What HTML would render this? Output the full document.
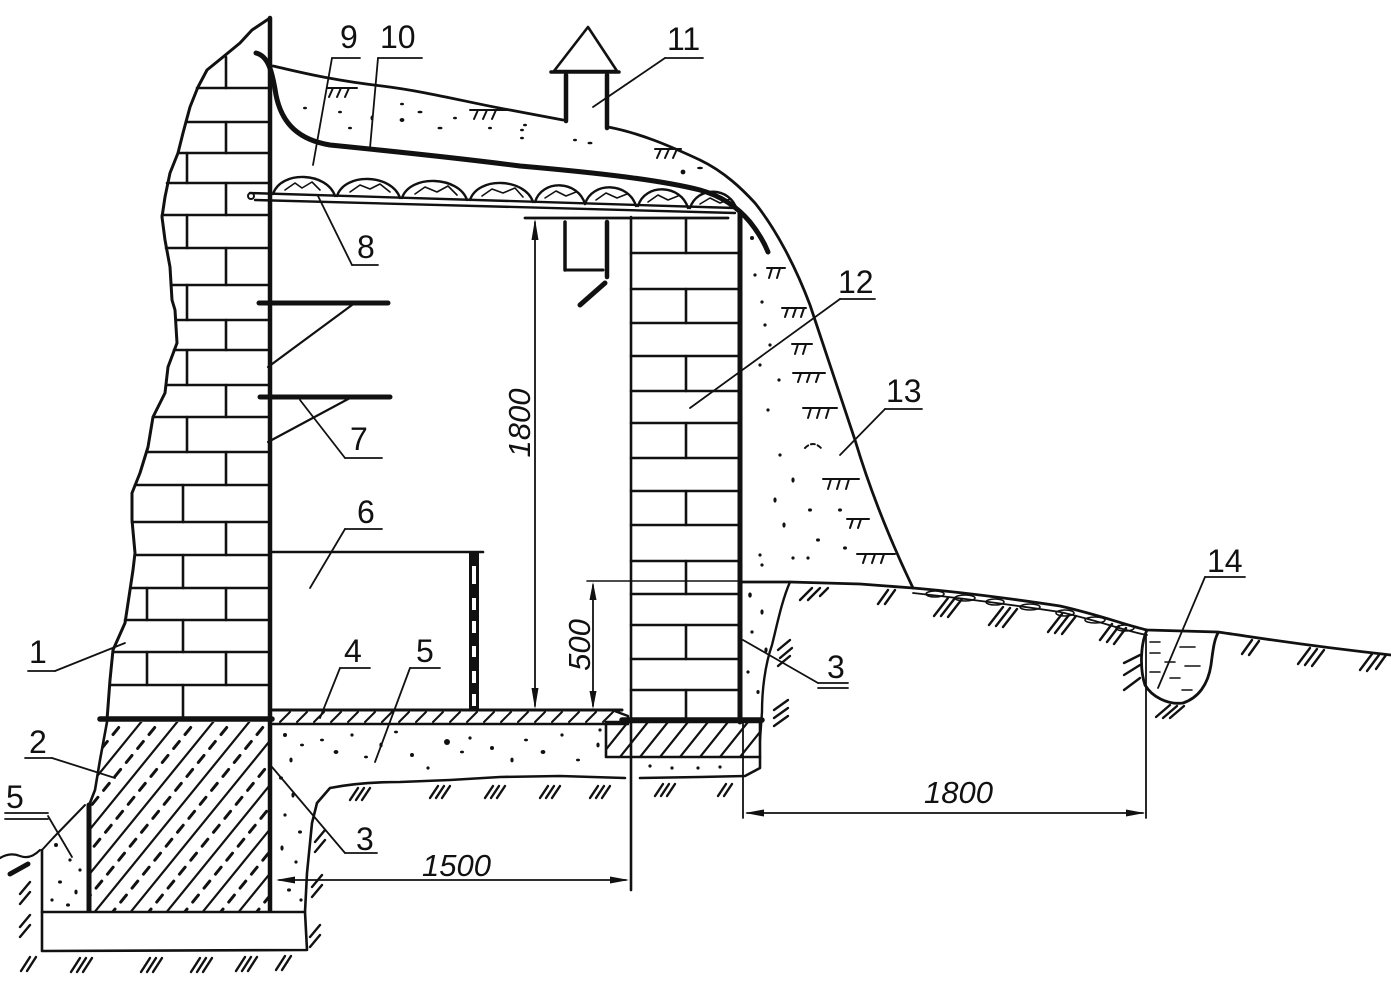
<!DOCTYPE html>
<html><head><meta charset="utf-8"><style>
html,body{margin:0;padding:0;background:#fff;}
svg{display:block;}
text{font-family:"Liberation Sans",Arial,sans-serif;fill:#111;}
</style></head><body>
<svg width="1391" height="988" viewBox="0 0 1391 988" xmlns="http://www.w3.org/2000/svg">
<defs>
<clipPath id="fc"><polygon points="107,722 270,722 270,912 88,912 88,808 95,790 100,760"/></clipPath>
<clipPath id="rc"><rect x="606" y="723" width="153" height="33"/></clipPath>
</defs>
<rect width="1391" height="988" fill="#fff"/>
<g fill="none" stroke="#111" stroke-linecap="round" stroke-linejoin="round">

<!-- LEFT WALL outline -->
<polyline stroke-width="3" points="270,18 252,30 240,43 223,57 207,70 198,87 190,107 183,133 178,153 170,173 165,197 162,217 165,240 170,267 172,300 175,310 177,343 168,367 165,393 153,417 148,447 140,473 132,493 132,520 135,553 133,570 130,590 125,623 113,650 110,680 107,720"/>
<line x1="270" y1="18" x2="270" y2="912" stroke-width="4.5"/>
<g stroke-width="2.6">
<line x1="197" y1="88" x2="270" y2="88"/><line x1="186" y1="122" x2="270" y2="122"/>
<line x1="178" y1="153" x2="270" y2="153"/><line x1="167" y1="183" x2="270" y2="183"/>
<line x1="162" y1="215" x2="270" y2="215"/><line x1="166" y1="248" x2="270" y2="248"/>
<line x1="171" y1="285" x2="270" y2="285"/><line x1="176" y1="320" x2="270" y2="320"/>
<line x1="174" y1="350" x2="270" y2="350"/><line x1="166" y1="385" x2="270" y2="385"/>
<line x1="153" y1="417" x2="270" y2="417"/><line x1="147" y1="452" x2="270" y2="452"/>
<line x1="135" y1="485" x2="270" y2="485"/><line x1="132" y1="522" x2="270" y2="522"/>
<line x1="135" y1="555" x2="270" y2="555"/><line x1="131" y1="588" x2="270" y2="588"/>
<line x1="125" y1="620" x2="270" y2="620"/><line x1="113" y1="652" x2="270" y2="652"/>
<line x1="110" y1="685" x2="270" y2="685"/>
<line x1="226" y1="57" x2="226" y2="88"/><line x1="226" y1="122" x2="226" y2="153"/>
<line x1="226" y1="183" x2="226" y2="215"/><line x1="226" y1="248" x2="226" y2="285"/>
<line x1="226" y1="320" x2="226" y2="350"/><line x1="226" y1="385" x2="226" y2="417"/>
<line x1="226" y1="452" x2="226" y2="485"/><line x1="226" y1="522" x2="226" y2="555"/>
<line x1="226" y1="588" x2="226" y2="620"/><line x1="226" y1="652" x2="226" y2="685"/>
<line x1="187" y1="153" x2="187" y2="183"/><line x1="187" y1="215" x2="187" y2="248"/>
<line x1="187" y1="285" x2="187" y2="320"/><line x1="187" y1="350" x2="187" y2="385"/>
<line x1="187" y1="417" x2="187" y2="452"/>
<line x1="183" y1="485" x2="183" y2="522"/><line x1="183" y1="555" x2="183" y2="588"/>
<line x1="183" y1="620" x2="183" y2="652"/><line x1="183" y1="685" x2="183" y2="718"/>
<line x1="147" y1="588" x2="147" y2="620"/><line x1="147" y1="652" x2="147" y2="685"/>
</g>

<!-- FOUNDATION 2 -->
<g clip-path="url(#fc)">
<g stroke-width="2.2">
<line x1="-100" y1="930" x2="70" y2="721"/><line x1="-64" y1="930" x2="106" y2="721"/>
<line x1="-28" y1="930" x2="142" y2="721"/><line x1="8" y1="930" x2="178" y2="721"/>
<line x1="44" y1="930" x2="214" y2="721"/><line x1="80" y1="930" x2="250" y2="721"/>
<line x1="116" y1="930" x2="286" y2="721"/><line x1="152" y1="930" x2="322" y2="721"/>
<line x1="188" y1="930" x2="358" y2="721"/><line x1="224" y1="930" x2="394" y2="721"/>
<line x1="260" y1="930" x2="430" y2="721"/>
</g>
<g stroke-width="3" stroke-dasharray="9 9">
<line x1="-82" y1="930" x2="88" y2="721"/><line x1="-46" y1="930" x2="124" y2="721"/>
<line x1="-10" y1="930" x2="160" y2="721"/><line x1="26" y1="930" x2="196" y2="721"/>
<line x1="62" y1="930" x2="232" y2="721"/><line x1="98" y1="930" x2="268" y2="721"/>
<line x1="134" y1="930" x2="304" y2="721"/><line x1="170" y1="930" x2="340" y2="721"/>
<line x1="206" y1="930" x2="376" y2="721"/><line x1="242" y1="930" x2="412" y2="721"/>
</g>
</g>
<polyline stroke-width="2.6" points="107,722 100,760 95,790 88,808"/>
<line x1="89" y1="805" x2="89" y2="912" stroke-width="5"/>
<line x1="100" y1="719" x2="272" y2="719" stroke-width="5.5"/>
<!-- footing -->
<path d="M42,912 L305,912 L307,950 L42,951 Z" fill="#fff" stroke-width="2.6"/>
<line x1="42" y1="850" x2="42" y2="912" stroke-width="2.6"/>
<path d="M0,858 Q10,852 20,856 T40,850" stroke-width="2.2"/>
<path d="M42,850 L53,838 L85,805" stroke-width="2"/>
<path d="M10,874 L28,864" stroke-width="5"/>

<!-- right trench of left foundation / floor sand bottom -->
<path d="M305,912 L307,873 L312,823 L317,803 L330,788 Q360,782 400,782 L450,780 L500,777 L560,776 L625,778" stroke-width="2.6"/>
<path d="M640,778 L700,777 L745,776 L760,768 L760,757" stroke-width="2.6"/>

<!-- FLOOR layer 4 -->
<line x1="272" y1="710" x2="622" y2="710" stroke-width="3"/>
<line x1="272" y1="724" x2="628" y2="724" stroke-width="2.4"/>
<path d="M612,710 L628,716 L628,724" stroke-width="2.4"/>
<g stroke-width="2">
<line x1="280" y1="722" x2="290" y2="712"/><line x1="297" y1="722" x2="307" y2="712"/>
<line x1="314" y1="722" x2="324" y2="712"/><line x1="331" y1="722" x2="341" y2="712"/>
<line x1="348" y1="722" x2="358" y2="712"/><line x1="365" y1="722" x2="375" y2="712"/>
<line x1="382" y1="722" x2="392" y2="712"/><line x1="399" y1="722" x2="409" y2="712"/>
<line x1="416" y1="722" x2="426" y2="712"/><line x1="433" y1="722" x2="443" y2="712"/>
<line x1="450" y1="722" x2="460" y2="712"/><line x1="467" y1="722" x2="477" y2="712"/>
<line x1="484" y1="722" x2="494" y2="712"/><line x1="501" y1="722" x2="511" y2="712"/>
<line x1="518" y1="722" x2="528" y2="712"/><line x1="535" y1="722" x2="545" y2="712"/>
<line x1="552" y1="722" x2="562" y2="712"/><line x1="569" y1="722" x2="579" y2="712"/>
<line x1="586" y1="722" x2="596" y2="712"/><line x1="603" y1="722" x2="613" y2="712"/>
</g>

<!-- RIGHT foundation strip -->
<rect x="606" y="722" width="154" height="35" stroke-width="2.6"/>
<g clip-path="url(#rc)" stroke-width="2.2">
<line x1="600" y1="757" x2="628" y2="722"/><line x1="620" y1="757" x2="648" y2="722"/>
<line x1="640" y1="757" x2="668" y2="722"/><line x1="660" y1="757" x2="688" y2="722"/>
<line x1="680" y1="757" x2="708" y2="722"/><line x1="700" y1="757" x2="728" y2="722"/>
<line x1="720" y1="757" x2="748" y2="722"/><line x1="740" y1="757" x2="768" y2="722"/>
</g>
<line x1="622" y1="720" x2="762" y2="720" stroke-width="5.5"/>

<!-- RIGHT WALL -->
<line x1="631" y1="217" x2="631" y2="890" stroke-width="2.6"/>
<line x1="740" y1="212" x2="740" y2="722" stroke-width="5"/>
<line x1="743" y1="722" x2="743" y2="818" stroke-width="1.8"/>
<g stroke-width="2.6">
<line x1="631" y1="253" x2="740" y2="253"/><line x1="631" y1="289" x2="740" y2="289"/>
<line x1="631" y1="323" x2="740" y2="323"/><line x1="631" y1="356" x2="740" y2="356"/>
<line x1="631" y1="391" x2="740" y2="391"/><line x1="631" y1="423" x2="740" y2="423"/>
<line x1="631" y1="458" x2="740" y2="458"/><line x1="631" y1="491" x2="740" y2="491"/>
<line x1="631" y1="525" x2="740" y2="525"/><line x1="631" y1="561" x2="740" y2="561"/>
<line x1="631" y1="594" x2="740" y2="594"/><line x1="631" y1="625" x2="740" y2="625"/>
<line x1="631" y1="659" x2="740" y2="659"/><line x1="631" y1="690" x2="740" y2="690"/>
<line x1="686" y1="218" x2="686" y2="253"/><line x1="686" y1="289" x2="686" y2="323"/>
<line x1="686" y1="356" x2="686" y2="391"/><line x1="686" y1="423" x2="686" y2="458"/>
<line x1="686" y1="491" x2="686" y2="525"/><line x1="686" y1="561" x2="686" y2="594"/>
<line x1="686" y1="625" x2="686" y2="659"/><line x1="686" y1="690" x2="686" y2="718"/>
</g>

<!-- CEILING beam -->
<line x1="250" y1="193" x2="735" y2="208" stroke-width="2.4"/>
<line x1="255" y1="200" x2="735" y2="213" stroke-width="2.4"/>
<circle cx="251" cy="196" r="3" stroke-width="2"/>
<line x1="525" y1="218" x2="728" y2="218" stroke-width="2.8"/>
<!-- humps -->
<g stroke-width="2.4">
<path d="M273,194 C281,170 327,172 335,196"/>
<path d="M337,196 C345,172 392,174 400,198"/>
<path d="M402,198 C410,174 459,176 467,200"/>
<path d="M470,200 C478,176 525,178 533,202"/>
<path d="M535,202 C542,179 578,180 585,204"/>
<path d="M585,204 C592,181 629,182 636,206"/>
<path d="M638,206 C645,183 681,184 688,208"/>
<path d="M690,208 C697,186 730,186 737,210"/>
</g>
<g stroke-width="1.6">
<path d="M285,190 L295,183 L302,188 L312,182 L320,190"/>
<path d="M350,192 L360,185 L370,189 L380,184 L390,192"/>
<path d="M415,194 L425,187 L437,192 L448,186 L457,195"/>
<path d="M482,196 L492,189 L503,193 L515,188 L523,197"/>
<path d="M545,198 L556,191 L566,196 L576,192"/>
<path d="M596,200 L606,193 L617,198 L627,194"/>
<path d="M648,202 L658,195 L668,200 L678,196"/>
<path d="M700,204 L710,198 L720,203 L730,199"/>
</g>

<!-- waterproofing 10 -->
<path d="M256,53 C268,56 272,70 276,95 C282,125 300,140 330,145 C380,150 450,157 520,166 C600,173 660,180 700,190 C725,197 740,210 750,222 C758,232 764,242 768,252" stroke-width="5"/>
<!-- soil outline -->
<path d="M273,66 C300,72 330,80 382,86 C430,92 470,103 510,110 L563,120" stroke-width="2.8"/>
<path d="M608,127 C640,133 670,146 700,160 C725,172 743,190 755,203 C775,228 795,265 810,305 L855,440 C870,490 890,540 913,588" stroke-width="2.8"/>

<!-- vent 11 -->
<line x1="566" y1="75" x2="566" y2="121" stroke-width="4.5"/>
<line x1="607" y1="75" x2="607" y2="128" stroke-width="4.5"/>
<polygon points="588,27 617,71 554,71" fill="#fff" stroke-width="2.6"/>
<line x1="551" y1="72" x2="619" y2="72" stroke-width="3.5"/>
<line x1="565" y1="222" x2="565" y2="270" stroke-width="3.5"/>
<line x1="565" y1="270" x2="603" y2="270" stroke-width="3"/>
<line x1="607" y1="222" x2="607" y2="277" stroke-width="4.5"/>
<line x1="605" y1="283" x2="580" y2="305" stroke-width="5"/>

<!-- shelves 7 -->
<line x1="259" y1="303" x2="388" y2="303" stroke-width="5"/>
<line x1="260" y1="397" x2="390" y2="397" stroke-width="5"/>
<line x1="268" y1="367" x2="352" y2="305" stroke-width="2.2"/>
<line x1="268" y1="442" x2="350" y2="398" stroke-width="2.2"/>

<!-- box 6 -->
<line x1="272" y1="552" x2="483" y2="552" stroke-width="2.6"/>
</g>
<rect x="469" y="553" width="10" height="157" fill="#111"/>
<g fill="#fff">
<rect x="472" y="566" width="4" height="18"/><rect x="472" y="598" width="4" height="12"/>
<rect x="472" y="621" width="4" height="12"/><rect x="472" y="646" width="4" height="11"/>
<rect x="472" y="671" width="4" height="12"/><rect x="472" y="694" width="4" height="12"/>
</g>

<g fill="none" stroke="#111" stroke-linecap="round" stroke-linejoin="round">
<!-- DIMENSIONS -->
<line x1="535" y1="222" x2="535" y2="706" stroke-width="1.8"/>
<line x1="593" y1="585" x2="593" y2="706" stroke-width="1.8"/>
<line x1="587" y1="581" x2="740" y2="581" stroke-width="1.6"/>
<line x1="279" y1="880" x2="626" y2="880" stroke-width="1.8"/>
<line x1="747" y1="813" x2="1143" y2="813" stroke-width="1.8"/>
<line x1="1146" y1="632" x2="1146" y2="818" stroke-width="1.8"/>

<!-- GROUND right -->
<path d="M740,582 L790,582 L860,584 L913,588 C960,592 1000,597 1060,606 C1100,615 1125,625 1147,630 L1218,632 C1260,638 1300,645 1391,655" stroke-width="2.8"/>
<path d="M913,593 C960,598 1000,603 1060,612 C1100,621 1125,631 1147,635" stroke-width="1.8"/>
<g stroke-width="1.6">
<ellipse cx="935" cy="594" rx="9" ry="3"/><ellipse cx="965" cy="598" rx="10" ry="3"/>
<ellipse cx="995" cy="602" rx="9" ry="3"/><ellipse cx="1030" cy="607" rx="10" ry="3"/>
<ellipse cx="1065" cy="613" rx="9" ry="3"/><ellipse cx="1095" cy="620" rx="10" ry="3"/>
<ellipse cx="1125" cy="628" rx="9" ry="3"/>
</g>
<!-- pit 14 -->
<path d="M1147,630 C1140,645 1140,670 1145,685 C1152,697 1168,705 1183,703 C1198,698 1208,685 1211,665 C1213,650 1214,640 1218,633" stroke-width="2.8"/>
<g stroke-width="1.6">
<line x1="1150" y1="642" x2="1160" y2="642"/><line x1="1180" y1="647" x2="1195" y2="647"/>
<line x1="1150" y1="653" x2="1160" y2="653"/><line x1="1165" y1="662" x2="1175" y2="662"/>
<line x1="1185" y1="666" x2="1200" y2="666"/><line x1="1150" y1="672" x2="1160" y2="672"/>
<line x1="1170" y1="678" x2="1180" y2="678"/><line x1="1182" y1="690" x2="1192" y2="690"/>
</g>
<!-- trench edge by right wall -->
<path d="M790,582 C782,600 777,625 772,645 C765,665 762,690 762,712 L760,740" stroke-width="2.4"/>

<!-- LEADERS -->
<g stroke-width="1.8">
<line x1="332" y1="58" x2="360" y2="58"/><line x1="332" y1="58" x2="313" y2="165"/>
<line x1="378" y1="58" x2="422" y2="58"/><line x1="378" y1="58" x2="370" y2="148"/>
<line x1="665" y1="58" x2="703" y2="58"/><line x1="665" y1="58" x2="593" y2="107"/>
<line x1="352" y1="265" x2="378" y2="265"/><line x1="352" y1="265" x2="318" y2="196"/>
<line x1="840" y1="299" x2="875" y2="299"/><line x1="840" y1="299" x2="690" y2="408"/>
<line x1="885" y1="409" x2="922" y2="409"/><line x1="885" y1="409" x2="840" y2="455"/>
<line x1="345" y1="458" x2="382" y2="458"/><line x1="345" y1="458" x2="300" y2="400"/>
<line x1="345" y1="529" x2="382" y2="529"/><line x1="345" y1="529" x2="310" y2="588"/>
<line x1="1205" y1="577" x2="1245" y2="577"/><line x1="1205" y1="577" x2="1158" y2="688"/>
<line x1="28" y1="671" x2="55" y2="671"/><line x1="55" y1="671" x2="125" y2="643"/>
<line x1="340" y1="668" x2="370" y2="668"/><line x1="340" y1="668" x2="320" y2="718"/>
<line x1="410" y1="668" x2="440" y2="668"/><line x1="410" y1="668" x2="375" y2="762"/>
<line x1="818" y1="683" x2="848" y2="683"/><line x1="818" y1="688" x2="848" y2="688"/><line x1="818" y1="683" x2="743" y2="640"/>
<line x1="25" y1="758" x2="52" y2="758"/><line x1="52" y1="758" x2="115" y2="778"/>
<line x1="5" y1="813" x2="48" y2="813"/><line x1="5" y1="819" x2="48" y2="819"/><line x1="48" y1="816" x2="72" y2="857"/>
<line x1="345" y1="853" x2="377" y2="853"/><line x1="345" y1="853" x2="272" y2="767"/>
</g>

<!-- ground hatch marks -->
<g stroke-width="2.4">
<path d="M358,788 l-8,12 M364,788 l-8,12 M370,788 l-8,12"/>
<path d="M438,786 l-8,12 M444,786 l-8,12 M450,786 l-8,12"/>
<path d="M493,786 l-8,12 M499,786 l-8,12 M505,786 l-8,12"/>
<path d="M548,786 l-8,12 M554,786 l-8,12 M560,786 l-8,12"/>
<path d="M598,786 l-8,12 M604,786 l-8,12 M610,786 l-8,12"/>
<path d="M663,784 l-8,12 M669,784 l-8,12 M675,784 l-8,12"/>
<path d="M726,784 l-8,12 M732,784 l-8,12"/>
<path d="M30,957 l-9,14 M36,957 l-9,14"/>
<path d="M80,958 l-9,14 M86,958 l-9,14 M92,958 l-9,14"/>
<path d="M150,958 l-9,14 M156,958 l-9,14 M162,958 l-9,14"/>
<path d="M200,958 l-9,14 M206,958 l-9,14 M212,958 l-9,14"/>
<path d="M245,957 l-9,14 M251,957 l-9,14 M257,957 l-9,14"/>
<path d="M285,956 l-9,14 M291,956 l-9,14"/>
<path d="M30,882 l-10,12 M30,892 l-10,12 M30,915 l-10,12 M30,925 l-10,12"/>
<path d="M325,830 l-10,12 M325,840 l-10,12 M322,875 l-10,12 M322,885 l-10,12 M320,925 l-10,12 M320,935 l-10,12"/>
<path d="M790,640 l-12,10 M792,648 l-12,10 M790,656 l-12,10"/>
<path d="M788,700 l-14,10 M788,708 l-14,10 M788,716 l-14,10"/>
<path d="M812,588 l-12,12 M820,588 l-12,12 M828,588 l-8,8"/>
<path d="M888,590 l-10,14 M895,590 l-10,14"/>
<path d="M948,598 l-14,18 M955,598 l-14,18 M962,599 l-14,18"/>
<path d="M1003,607 l-14,18 M1010,608 l-14,18 M1017,609 l-14,18"/>
<path d="M1062,614 l-14,18 M1069,615 l-14,18 M1076,616 l-14,18"/>
<path d="M1112,624 l-12,16 M1119,626 l-12,16 M1126,628 l-12,16"/>
<path d="M1140,655 l-16,8 M1140,665 l-16,10 M1140,678 l-16,12"/>
<path d="M1170,705 l-14,12 M1177,706 l-14,12 M1184,706 l-14,12"/>
<path d="M1252,640 l-10,14 M1259,641 l-10,14"/>
<path d="M1310,648 l-12,16 M1317,649 l-12,16 M1324,650 l-12,16"/>
<path d="M1372,654 l-12,16 M1379,655 l-12,16 M1386,655 l-10,14"/>
</g>
<!-- earth marks (ттт) -->
<g stroke-width="2">
<path d="M327,88 h30 M333,88 l-4,9 M341,88 l-4,9 M349,88 l-4,9"/>
<path d="M470,110 h38 M478,110 l-4,9 M487,110 l-4,9 M496,110 l-4,9"/>
<path d="M655,149 h26 M661,149 l-4,9 M669,149 l-4,9 M677,149 l-4,9"/>
<path d="M767,268 h18 M772,268 l-3,10 M780,268 l-3,10"/>
<path d="M782,308 h24 M788,308 l-3,9 M796,308 l-3,9 M804,308 l-3,9"/>
<path d="M792,344 h20 M798,344 l-3,10 M806,344 l-3,10"/>
<path d="M793,373 h32 M801,373 l-3,9 M810,373 l-3,9 M819,373 l-3,9"/>
<path d="M803,408 h34 M811,408 l-3,10 M820,408 l-3,10 M829,408 l-3,10"/>
<path d="M823,479 h36 M831,479 l-3,10 M840,479 l-3,10 M849,479 l-3,10"/>
<path d="M847,519 h22 M853,519 l-3,9 M861,519 l-3,9"/>
<path d="M857,554 h38 M866,554 l-3,9 M875,554 l-3,9 M884,554 l-3,9"/>
<path d="M805,448 q8,-8 16,0" stroke-dasharray="4 3"/>
</g>
</g>

<!-- dots (sand / soil) -->
<g fill="#111">
<ellipse cx="305" cy="108" rx="2" ry="1.3"/><ellipse cx="340" cy="112" rx="2" ry="1.3"/>
<ellipse cx="350" cy="128" rx="2" ry="1.3"/><ellipse cx="372" cy="118" rx="1.5" ry="2.5"/>
<ellipse cx="402" cy="104" rx="2" ry="1.3"/><ellipse cx="402" cy="120" rx="2.4" ry="2"/>
<ellipse cx="420" cy="112" rx="2.5" ry="1.3"/><ellipse cx="440" cy="128" rx="2.5" ry="1.3"/>
<ellipse cx="455" cy="118" rx="2" ry="1.3"/><ellipse cx="490" cy="128" rx="2" ry="1.3"/>
<ellipse cx="522" cy="130" rx="2" ry="1.3"/><ellipse cx="522" cy="138" rx="2" ry="1.3"/>
<ellipse cx="525" cy="125" rx="2" ry="1.3"/><ellipse cx="575" cy="140" rx="2" ry="1.3"/>
<ellipse cx="590" cy="143" rx="2.5" ry="1.3"/><ellipse cx="683" cy="172" rx="2.4" ry="2.4"/>
<ellipse cx="700" cy="168" rx="3" ry="1.3"/>
<ellipse cx="752" cy="238" rx="2" ry="2"/><ellipse cx="755" cy="275" rx="1.6" ry="1.6"/>
<ellipse cx="762" cy="302" rx="1.6" ry="1.6"/><ellipse cx="765" cy="325" rx="1.6" ry="1.6"/>
<ellipse cx="770" cy="345" rx="1.6" ry="1.6"/><ellipse cx="760" cy="365" rx="1.6" ry="1.6"/>
<ellipse cx="779" cy="380" rx="1.6" ry="1.6"/><ellipse cx="768" cy="410" rx="1.6" ry="1.6"/>
<ellipse cx="780" cy="455" rx="1.6" ry="1.6"/><ellipse cx="793" cy="480" rx="1.6" ry="2.6"/>
<ellipse cx="775" cy="500" rx="1.6" ry="2.6"/><ellipse cx="810" cy="510" rx="2" ry="1.6"/>
<ellipse cx="784" cy="525" rx="1.6" ry="2.6"/><ellipse cx="818" cy="540" rx="2" ry="1.6"/>
<ellipse cx="760" cy="555" rx="1.6" ry="1.6"/><ellipse cx="793" cy="558" rx="1.6" ry="1.6"/>
<ellipse cx="840" cy="510" rx="2" ry="1.6"/><ellipse cx="845" cy="548" rx="2" ry="1.6"/>
<ellipse cx="762" cy="565" rx="1.6" ry="1.6"/><ellipse cx="808" cy="558" rx="1.6" ry="1.6"/>
<ellipse cx="750" cy="595" rx="1.8" ry="2.6"/><ellipse cx="762" cy="612" rx="1.6" ry="2.6"/>
<ellipse cx="752" cy="632" rx="1.6" ry="1.6"/><ellipse cx="766" cy="650" rx="1.6" ry="2.6"/>
<ellipse cx="748" cy="672" rx="1.6" ry="1.6"/><ellipse cx="758" cy="692" rx="1.6" ry="2"/>
<ellipse cx="285" cy="735" rx="2" ry="2"/><ellipse cx="302" cy="745" rx="2" ry="1.4"/>
<ellipse cx="291" cy="760" rx="1.6" ry="2.4"/><ellipse cx="322" cy="740" rx="2" ry="1.4"/>
<ellipse cx="336" cy="752" rx="2.4" ry="2"/><ellipse cx="352" cy="735" rx="1.6" ry="1.6"/>
<ellipse cx="366" cy="757" rx="2" ry="1.4"/><ellipse cx="381" cy="745" rx="1.6" ry="2.4"/>
<ellipse cx="396" cy="732" rx="2" ry="1.4"/><ellipse cx="412" cy="755" rx="2" ry="2"/>
<ellipse cx="428" cy="768" rx="1.6" ry="1.6"/><ellipse cx="447" cy="742" rx="3" ry="3"/>
<ellipse cx="462" cy="752" rx="2" ry="1.4"/><ellipse cx="470" cy="738" rx="1.6" ry="1.6"/>
<ellipse cx="492" cy="748" rx="2" ry="2"/><ellipse cx="512" cy="760" rx="1.6" ry="2.4"/>
<ellipse cx="526" cy="740" rx="2" ry="1.4"/><ellipse cx="543" cy="752" rx="2.4" ry="2"/>
<ellipse cx="562" cy="735" rx="1.6" ry="1.6"/><ellipse cx="578" cy="760" rx="2" ry="1.4"/>
<ellipse cx="598" cy="745" rx="1.6" ry="2.4"/><ellipse cx="600" cy="730" rx="1.6" ry="1.6"/>
<ellipse cx="650" cy="766" rx="1.6" ry="1.6"/><ellipse cx="672" cy="768" rx="1.6" ry="1.6"/>
<ellipse cx="698" cy="768" rx="1.6" ry="1.6"/><ellipse cx="720" cy="767" rx="1.6" ry="1.6"/>
<ellipse cx="281" cy="778" rx="2" ry="1.6"/><ellipse cx="293" cy="795" rx="1.6" ry="2.6"/>
<ellipse cx="285" cy="815" rx="1.6" ry="1.6"/><ellipse cx="300" cy="832" rx="2" ry="1.6"/>
<ellipse cx="282" cy="848" rx="1.6" ry="2.6"/><ellipse cx="296" cy="862" rx="1.6" ry="1.6"/>
<ellipse cx="289" cy="890" rx="2" ry="1.6"/><ellipse cx="301" cy="900" rx="1.6" ry="1.6"/>
<ellipse cx="56" cy="845" rx="2" ry="2"/><ellipse cx="70" cy="860" rx="1.6" ry="1.6"/>
<ellipse cx="60" cy="882" rx="2" ry="1.6"/><ellipse cx="76" cy="892" rx="1.6" ry="2.4"/>
<ellipse cx="52" cy="900" rx="1.6" ry="1.6"/><ellipse cx="68" cy="905" rx="2" ry="1.6"/>
<ellipse cx="80" cy="870" rx="1.6" ry="1.6"/>
</g>

<!-- arrowheads -->
<g fill="#111">
<polygon points="535,219 531.5,240 538.5,240"/><polygon points="535,709 531.5,688 538.5,688"/>
<polygon points="593,582 589.5,600 596.5,600"/><polygon points="593,709 589.5,691 596.5,691"/>
<polygon points="276,880 295,876.5 295,883.5"/><polygon points="629,880 610,876.5 610,883.5"/>
<polygon points="745,813 764,809.5 764,816.5"/><polygon points="1145,813 1126,809.5 1126,816.5"/>
</g>

<!-- TEXT -->
<g font-size="32">
<text x="340" y="48">9</text>
<text x="380" y="48">10</text>
<text x="667" y="50">11</text>
<text x="357" y="258">8</text>
<text x="838" y="293">12</text>
<text x="886" y="402">13</text>
<text x="350" y="450">7</text>
<text x="357" y="523">6</text>
<text x="1207" y="572">14</text>
<text x="29" y="663">1</text>
<text x="344" y="662">4</text>
<text x="416" y="662">5</text>
<text x="827" y="678">3</text>
<text x="29" y="753">2</text>
<text x="6" y="808">5</text>
<text x="356" y="850">3</text>
</g>
<g font-size="31" font-style="italic">
<text x="530" y="423" text-anchor="middle" transform="rotate(-90 530 423)">1800</text>
<text x="590" y="645" text-anchor="middle" transform="rotate(-90 590 645)">500</text>
<text x="422" y="876">1500</text>
<text x="924" y="803">1800</text>
</g>
</svg>
</body></html>
